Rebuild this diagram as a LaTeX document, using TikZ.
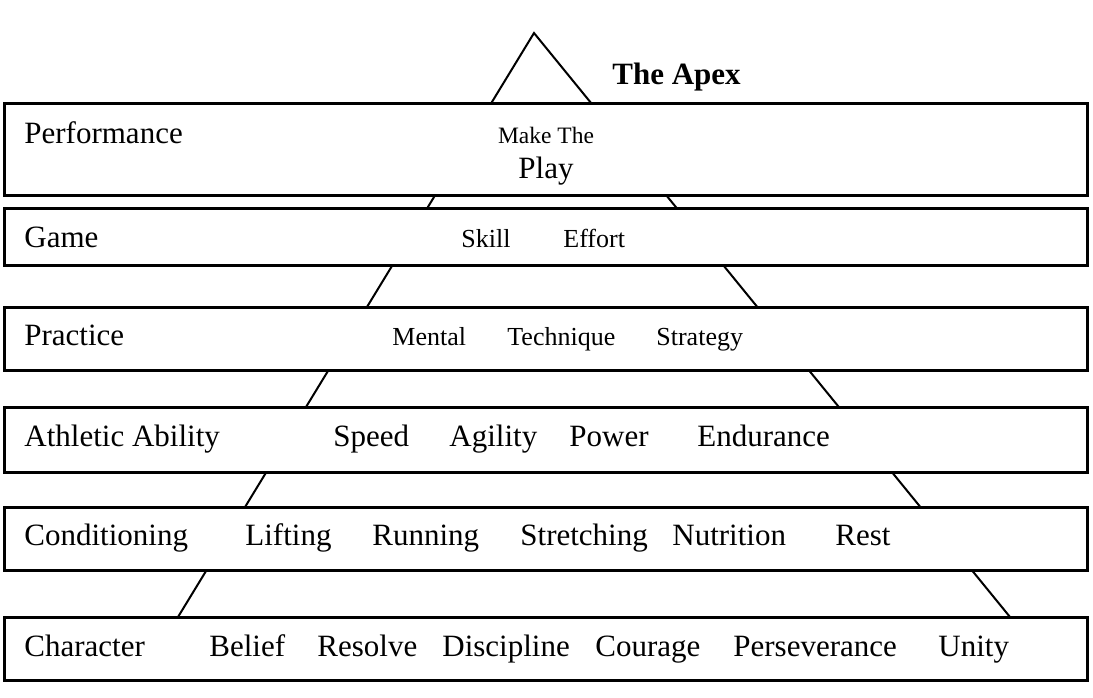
\documentclass[tikz,border=0pt]{standalone}
\usepackage{fontspec}
\setmainfont{Liberation Serif}

\begin{document}
\begin{tikzpicture}
	[x=0.5pt,y=-0.5pt,
	 every node/.style={anchor=base west,inner sep=0pt,font=\fontsize{15.5}{18}\selectfont},
	 small/.style={font=\fontsize{13}{15}\selectfont},
	 layer/.style={draw,line width=1.5pt,fill=white}]
	\useasboundingbox (0,0) rectangle (1093,697);

	% pyramid behind the layers
	\coordinate (apex) at (534,33);
	\coordinate (bl) at (178,617);
	\coordinate (br) at (1010,617);
	\draw[line width=1pt] (bl) -- (apex) -- (br);

	\foreach \top/\bot in {103/195,208/265,307/370,407/472,507/570,617/680}
	\draw[layer] (4,\top) rectangle (1087,\bot);

	\node (apx) at (612,84) {\bfseries The Apex};

	% layer names
	\node (perf) at (24,143) {Performance};
	\node (game) at (24,247) {Game};
	\node (prac) at (24,345) {Practice};
	\node (athl) at (24,446) {Athletic Ability};
	\node (cond) at (24,545) {Conditioning};
	\node (char) at (24,656) {Character};

	% entries
	\node[anchor=base,font=\fontsize{11.75}{14}\selectfont] (make) at (546,143) {Make The};
	\node[anchor=base] (play) at (546,178) {Play};
	\foreach \x/\t in {461/Skill,563/Effort}
	\node[small] (game\x) at (\x,247) {\t};
	\foreach \x/\t in {392/Mental,507/Technique,656/Strategy}
	\node[small] (prac\x) at (\x,345) {\t};
	\foreach \x/\t in {333/Speed,449/Agility,569/Power,697/Endurance}
	\node (athl\x) at (\x,446) {\t};
	\foreach \x/\t in {245/Lifting,372/Running,520/Stretching,672/Nutrition,835/Rest}
	\node (cond\x) at (\x,545) {\t};
	\foreach \x/\t in {209/Belief,317/Resolve,442/Discipline,595/Courage,733/Perseverance,938/Unity}
	\node (char\x) at (\x,656) {\t};
\end{tikzpicture}
\end{document}
